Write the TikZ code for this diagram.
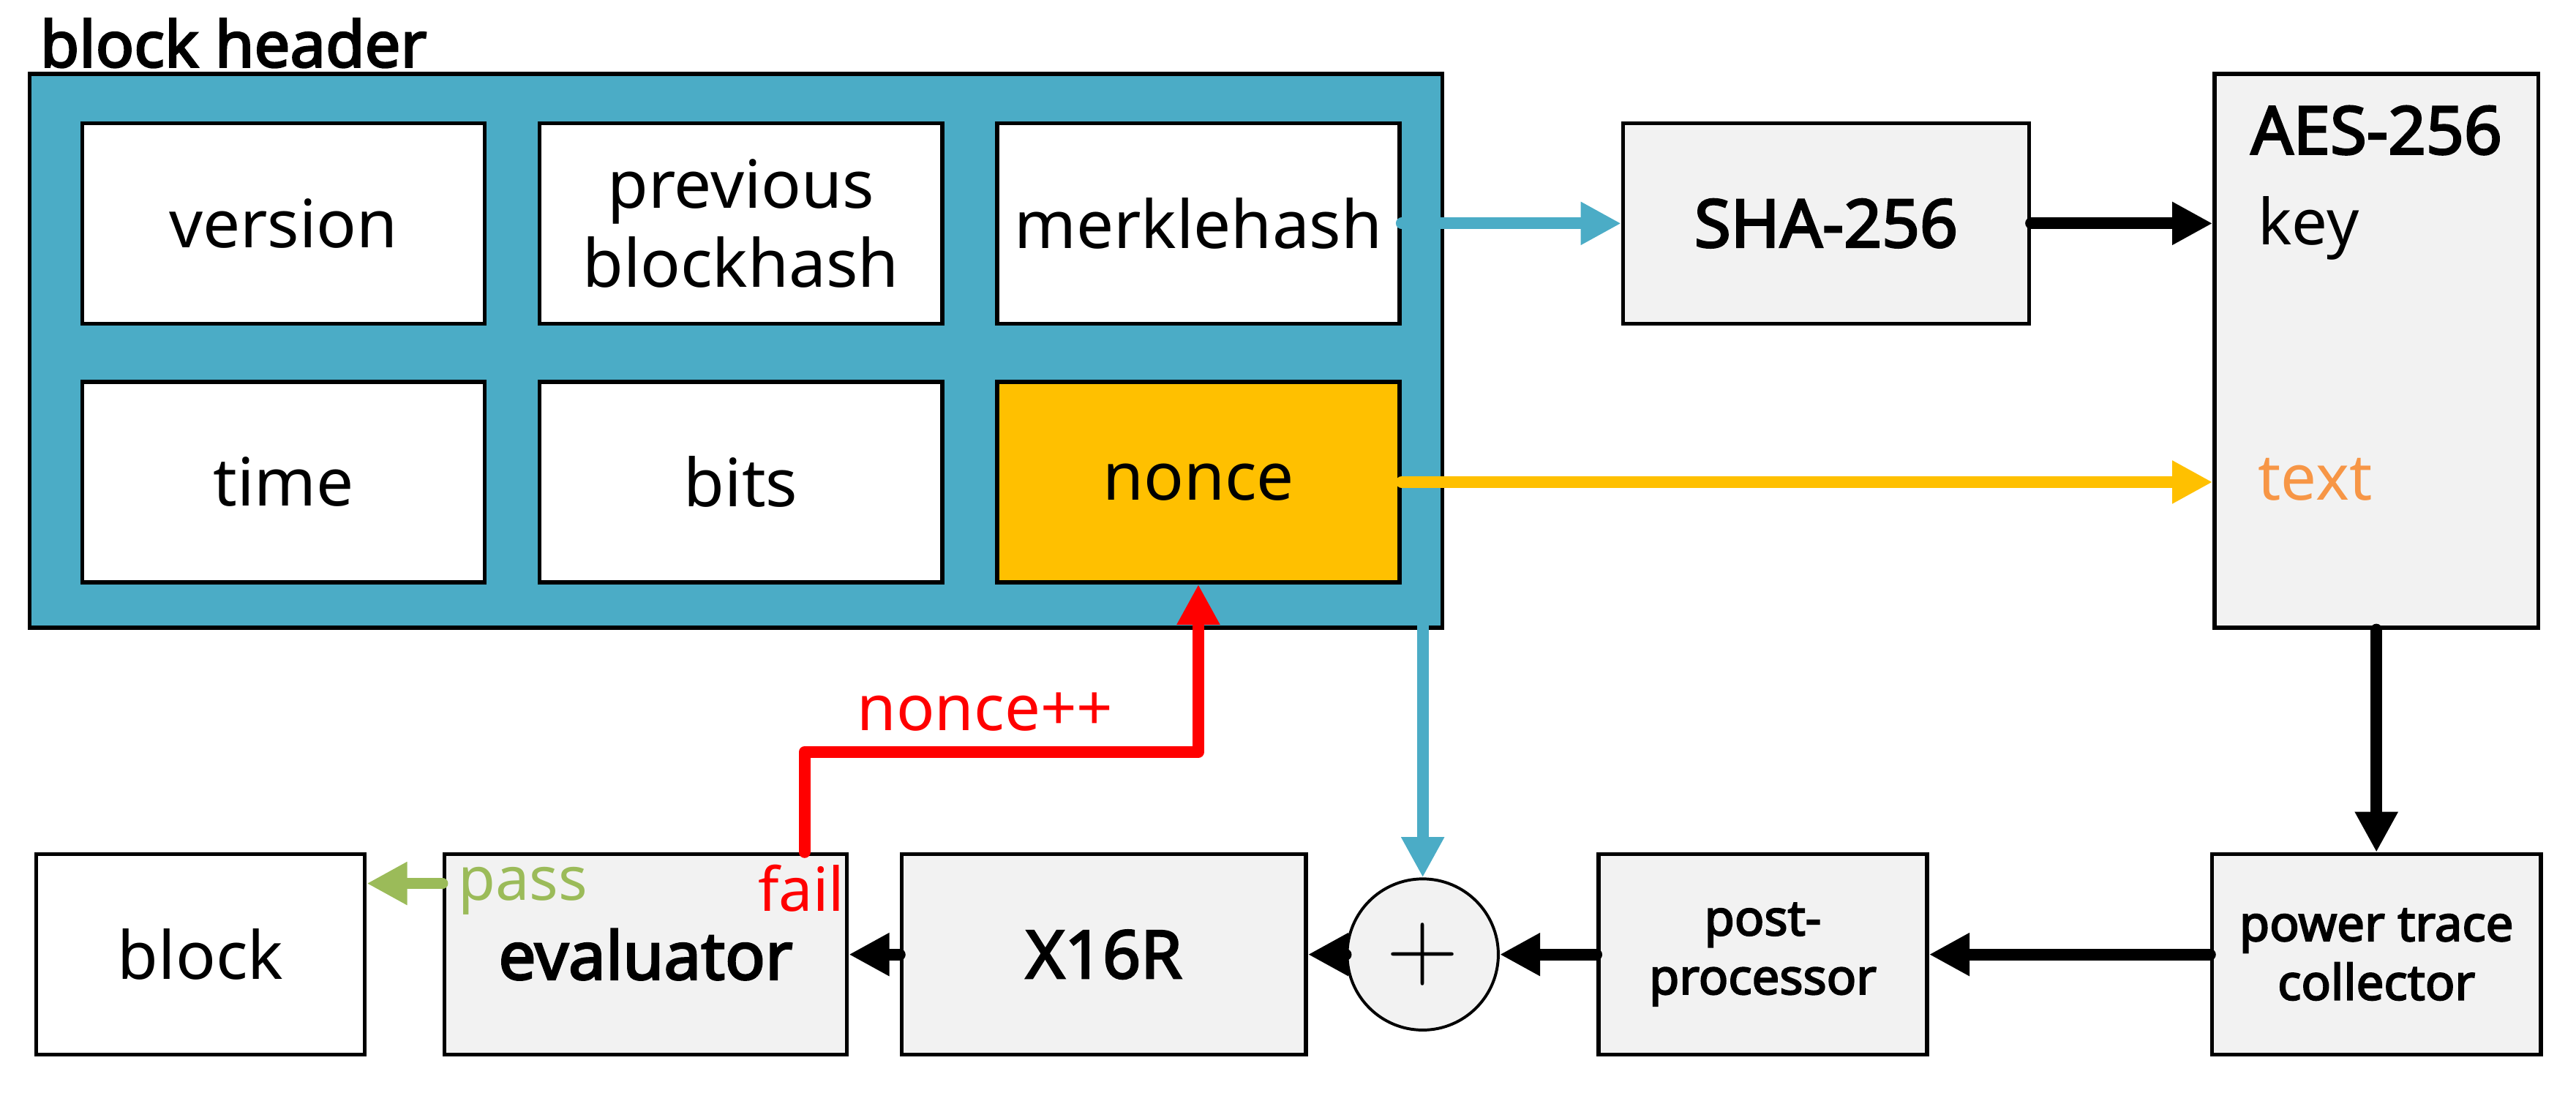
\documentclass[tikz,border=0pt]{standalone}
\usepackage{fontspec}
\setmainfont{Noto Sans}[BoldFont={Noto Sans}, BoldFeatures={FakeBold=3}]
\usepackage{tikz}
\usetikzlibrary{arrows.meta,positioning,calc}
\definecolor{hdrblue}{HTML}{4BACC6}
\definecolor{nonceyellow}{HTML}{FFC000}
\definecolor{boxgrey}{HTML}{F2F2F2}
\definecolor{textorange}{HTML}{F79646}
\definecolor{passgreen}{HTML}{9BBB59}

\begin{document}
\begin{tikzpicture}[node distance=1cm]
\tikzset{basicbox/.style={draw=black, line width=0.7pt, align=center, text=black, inner sep=0pt}, fieldbox/.style={basicbox, fill=white, font=\fontsize{11.5}{13.6}\selectfont, minimum width=2.45cm, minimum height=1.22cm}, procbox/.style={basicbox, fill=boxgrey, font=\bfseries\fontsize{11.5}{13.6}\selectfont, minimum height=1.22cm}, smallbox/.style={procbox, font=\bfseries\fontsize{8.5}{10.2}\selectfont, minimum width=2cm}, labeltext/.style={inner sep=0pt, font=\fontsize{11}{13}\selectfont}, arrowstyle/.style={-{Triangle[length=7pt, width=7pt]}, line width=2pt, line cap=round, line join=round, black}}
\useasboundingbox (0,0) rectangle (15.68,-6.65);
\node[basicbox, fill=hdrblue, minimum width=8.6cm, minimum height=3.37cm] (header) at (4.48,-2.135) {};
\node[font=\bfseries\fontsize{11}{13}\selectfont, anchor=base west, inner sep=0pt] (hdrlabel) at ($(header.north west)+(0.07,0.03)$) {block header};
\node[fieldbox] (version) at (1.725,-1.36) {version};
\node[fieldbox, right=0.31cm of version] (prevhash) {previous\\blockhash};
\node[fieldbox, right=0.31cm of prevhash] (merkle) {merklehash};
\node[fieldbox, below=0.33cm of version] (time) {time};
\node[fieldbox, below=0.33cm of prevhash] (bits) {bits};
\node[fieldbox, fill=nonceyellow, below=0.33cm of merkle] (nonce) {nonce};
\node[procbox, minimum width=2.47cm] (sha) at (11.115,-1.36) {SHA-256};
\node[procbox, minimum width=1.97cm, minimum height=3.37cm] (aes) at (14.465,-2.135) {};
\node[procbox, draw=none, fill=none, anchor=base, minimum height=0pt] (aeslabel) at ($(aes.north)+(0,-0.50)$) {AES-256};
\node[labeltext, anchor=base west] (keylabel) at ($(aes.west |- sha.center)+(0.27,-0.13)$) {key};
\node[labeltext, text=textorange, anchor=base west] (textlabel) at ($(aes.west |- nonce.center)+(0.27,-0.11)$) {text};
\node[fieldbox, minimum width=2cm] (block) at (1.22,-5.81) {block};
\node[procbox, minimum width=2.45cm, right=0.46cm of block] (evaluator) {evaluator};
\node[procbox, minimum width=2.46cm, right=0.31cm of evaluator] (x16r) {X16R};
\node[circle, draw=black, line width=0.5pt, fill=boxgrey, minimum size=0.92cm, inner sep=0pt, font=\fontsize{19}{19}\selectfont] (sum) at (8.66,-5.81) {$+$};
\node[smallbox] (postproc) at (10.73,-5.81) {post-\\processor};
\node[smallbox] (collector) at (aes.center |- postproc.center) {power trace\\collector};
\node[labeltext, font=\fontsize{10.5}{12}\selectfont, text=red, anchor=base east] (faillabel) at ($(evaluator.north east)+(-0.02,-0.36)$) {fail};
\node[labeltext, font=\fontsize{10.5}{12}\selectfont, text=passgreen, anchor=base west] (passlabel) at ($(evaluator.north west)+(0.09,-0.29)$) {pass};
\draw[arrowstyle, hdrblue] (merkle.east) -- (sha.west);
\draw[arrowstyle] (sha.east) -- (sha.east -| aes.west);
\draw[arrowstyle, nonceyellow] (nonce.east) -- (nonce.east -| aes.west);
\draw[arrowstyle] (aes.south) -- (collector.north);
\draw[arrowstyle] (collector.west) -- (postproc.east);
\draw[arrowstyle] (postproc.west) -- (sum.east);
\draw[arrowstyle] (sum.west) -- (x16r.east);
\draw[arrowstyle] (x16r.west) -- (evaluator.east);
\draw[arrowstyle, hdrblue] (sum.north |- nonce.south) -- (sum.north);
\draw[arrowstyle, red] ([xshift=-0.27cm]evaluator.north east) -- ++(0,0.61) coordinate (bend) -| (nonce.south);
\node[labeltext, text=red, anchor=base] (incr) at ($(bend)+(1.10,0.13)$) {nonce++};
\draw[arrowstyle, passgreen] ($(evaluator.west |- passlabel.base)+(0,0.1)$) -- ($(block.east |- passlabel.base)+(0,0.1)$);
\end{tikzpicture}
\end{document}
